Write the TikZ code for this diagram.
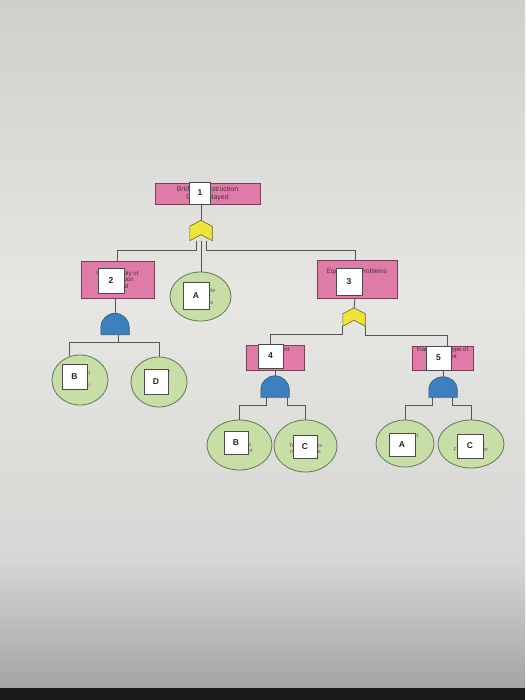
\documentclass[tikz,border=0pt]{standalone}
\usepackage{fontspec}
\setmainfont{Liberation Sans}
\usetikzlibrary{shapes.geometric}
\definecolor{pinkc}{HTML}{E07AA7}
\definecolor{pinkd}{HTML}{7A3E58}
\definecolor{greenc}{HTML}{C7DEA7}
\definecolor{greend}{HTML}{5E7A55}
\definecolor{bluec}{HTML}{3E80BD}
\definecolor{yelc}{HTML}{EEE43A}
\definecolor{wirec}{HTML}{555555}
\definecolor{txtp}{HTML}{4A2E42}
\definecolor{txtg}{HTML}{56684E}
\definecolor{lbld}{HTML}{4A4A4A}
\definecolor{bgtop}{HTML}{CFCFCC}
\definecolor{bgmid}{HTML}{E6E6E3}
\definecolor{bglow}{HTML}{D6D6D4}
\definecolor{bgbot}{HTML}{A4A4A4}
\newcommand\orgatedraw[1]{%
  \filldraw[fill=yelc,draw=yelc!45!black,line width=0.6pt]
    ([yshift=-6pt]#1.north west) -- (#1.north) -- ([yshift=-6pt]#1.north east)
    -- (#1.south east) -- ([yshift=6pt]#1.south) -- (#1.south west) -- cycle;}
\newcommand\andgatedraw[1]{%
  \filldraw[fill=bluec,draw=bluec!70!black,line width=0.6pt]
    (#1.south west) -- ([yshift=8pt]#1.south west)
    .. controls ([yshift=15pt]#1.south west) and ([xshift=-7.7pt]#1.north) .. (#1.north)
    .. controls ([xshift=7.7pt]#1.north) and ([yshift=15pt]#1.south east) .. ([yshift=8pt]#1.south east)
    -- (#1.south east) -- cycle;}
\begin{document}
\begin{tikzpicture}[x=1pt,y=-1pt,
  wire/.style={draw=wirec,line width=0.9pt},
  evt/.style={rectangle,draw=pinkd,line width=0.8pt,fill=pinkc,inner sep=1pt,align=center,text=txtp,font=\fontsize{6}{6.5}\selectfont},
  lbl/.style={rectangle,draw=lbld,line width=0.8pt,fill=white,inner sep=0pt,font=\bfseries\fontsize{8.5}{9}\selectfont,text=black!85},
  basic/.style={ellipse,draw=greend,line width=0.8pt,fill=greenc,inner sep=0pt,align=center,text=txtg,font=\fontsize{5.5}{6}\selectfont},
  gatebox/.style={rectangle,inner sep=0pt,draw=none}]
\useasboundingbox (0,0) rectangle (525,700);
% background (photo of a screen)
\shade[top color=bgtop,bottom color=bgmid] (0,0) rectangle (525,300);
\shade[top color=bgmid,bottom color=bglow] (0,300) rectangle (525,560);
\shade[top color=bglow,bottom color=bgbot] (0,560) rectangle (525,688);
\fill[black!90] (0,688) rectangle (525,700);

% events
\node[evt,minimum width=105pt,minimum height=21pt,font=\fontsize{7}{8}\selectfont] (e1) at (207.5,193.5) {Bridge Construction\\Gets Delayed};
\node[lbl,minimum width=21pt,minimum height=22pt] (l1) at (200,193) {1};
\node[evt,minimum width=73pt,minimum height=37pt] (e2) at (117.5,279.5) {Unavailability of\\construction\\material};
\node[lbl,minimum width=26pt,minimum height=25pt] (l2) at (111,280.5) {2};
\node[evt,minimum width=80pt,minimum height=38pt,font=\fontsize{6.5}{7}\selectfont] (e3) at (357,279) {Equipment Problems\\[9pt]};
\node[lbl,minimum width=26pt,minimum height=27pt] (l3) at (349,281.5) {3};
\node[evt,minimum width=58pt,minimum height=25pt] (e4) at (275,357.5) {Equipment\\Failure\\[4pt]};
\node[lbl,minimum width=25pt,minimum height=24pt] (l4) at (270.5,356) {4};
\node[evt,minimum width=61pt,minimum height=24pt] (e5) at (442.5,358) {Inadequate Type of\\Equipment\\[4pt]};
\node[lbl,minimum width=25pt,minimum height=24pt] (l5) at (438.5,358) {5};

% basic events
\node[basic,minimum width=61pt,minimum height=49pt] (bA) at (200.5,296.5) {Unfavorable\\Weather\\Conditions};
\node[lbl,minimum width=26pt,minimum height=27pt] (lA) at (196,295.5) {A};
\node[basic,minimum width=56pt,minimum height=50pt] (bB1) at (80,380) {Delay of\\Raw\\Material};
\node[lbl,minimum width=25pt,minimum height=25pt] (lB1) at (74.5,376.5) {B};
\node[basic,minimum width=56pt,minimum height=50pt] (bD) at (159,382) {Shortage\\of Funds\\[8pt]};
\node[lbl,minimum width=24pt,minimum height=25pt] (lD) at (156,381.5) {D};
\node[basic,minimum width=65pt,minimum height=50pt] (bB2) at (239.5,445) {Train\\Access to\\Equipment};
\node[lbl,minimum width=24pt,minimum height=23pt] (lB2) at (236,442.5) {B};
\node[basic,minimum width=63pt,minimum height=52pt] (bC1) at (305.5,446) {Operating\\Technology is\\not available};
\node[lbl,minimum width=24pt,minimum height=23pt] (lC1) at (305,446.5) {C};
\node[basic,minimum width=58pt,minimum height=47pt] (bA2) at (405,443.5) {Equipment\\[3pt]\\Failures};
\node[lbl,minimum width=26pt,minimum height=23pt] (lA2) at (402,444.5) {A};
\node[basic,minimum width=66pt,minimum height=48pt] (bC2) at (471,444) {Equipment\\not Loaded\\From Supplier};
\node[lbl,minimum width=26pt,minimum height=24pt] (lC2) at (470,446) {C};

% gates (placeholders)
\node[gatebox,minimum width=22pt,minimum height=20pt] (g1) at (201,230.5) {};
\node[gatebox,minimum width=28pt,minimum height=21pt] (g2) at (115,324) {};
\node[gatebox,minimum width=22pt,minimum height=18pt] (g3) at (354,317) {};
\node[gatebox,minimum width=28pt,minimum height=21pt] (g4) at (275,386.5) {};
\node[gatebox,minimum width=28pt,minimum height=20pt] (g5) at (443,387) {};

% connectors
\draw[wire] (l1.south -| g1.north) -- (g1.north);
\draw[wire] ([xshift=-5pt]g1.south) -- ++(0,10) -| (e2.north);
\draw[wire] (g1.south) -- (bA.north -| g1.south);
\draw[wire] ([xshift=5pt]g1.south) -- ++(0,10) -| ([xshift=-2pt]e3.north);
\draw[wire] (e2.south -| g2.north) -- (g2.north);
\draw[wire] ([xshift=3pt]g2.south) -- ++(0,8) -| (bB1.113);
\draw[wire] ([xshift=3pt]g2.south) -- ++(0,8) -| (bD.north);
\draw[wire] ([xshift=-2pt]e3.south) -- (g3.north);
\draw[wire] (g3.south west) -- ++(0,8) -| (l4.north);
\draw[wire] (g3.south east) -- ++(0,9) -| ([xshift=4.5pt]e5.north);
\draw[wire] (e4.south) -- (g4.north);
\draw[wire] ([xshift=-9pt]g4.south) -- ++(0,8) -| (bB2.north);
\draw[wire] ([xshift=12pt]g4.south) -- ++(0,8) -| (bC1.north);
\draw[wire] (e5.south -| g5.north) -- (g5.north);
\draw[wire] ([xshift=-11pt]g5.south) -- ++(0,8) -| (bA2.north);
\draw[wire] ([xshift=9pt]g5.south) -- ++(0,8) -| (bC2.north);

% gate shapes
\orgatedraw{g1}
\orgatedraw{g3}
\andgatedraw{g2}
\andgatedraw{g4}
\andgatedraw{g5}
\end{tikzpicture}
\end{document}
